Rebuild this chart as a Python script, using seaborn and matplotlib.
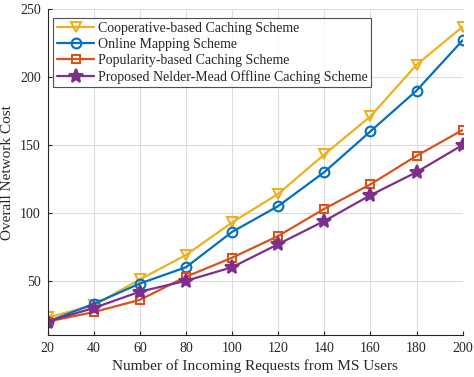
import pandas as pd
import matplotlib.pyplot as plt
import seaborn as sns

requests = [20, 40, 60, 80, 100, 120, 140, 160, 180, 200]
cooperative = [23, 32, 51, 69, 93, 114, 143, 171, 209, 237]
online = [20, 33, 48, 60, 86, 105, 130, 160, 190, 227]
popularity = [20, 27, 36, 53, 67, 83, 103, 121, 142, 161]
proposed = [20, 30, 42, 50, 60, 77, 94, 113, 130, 150]

names = ['Cooperative-based Caching Scheme', 'Online Mapping Scheme',
         'Popularity-based Caching Scheme', 'Proposed Nelder-Mead Offline Caching Scheme']
colors = ['#EDB120', '#0072BD', '#D95319', '#7E2F8E']
markers = ['v', 'o', 's', '*']
sizes = [7, 7, 6, 10]

sns.set_style('whitegrid')
plt.rcParams['font.family'] = ['Liberation Serif', 'DejaVu Serif']

fig = plt.figure(figsize=(4.74, 3.77), dpi=100)
ax = fig.add_axes([0.1006, 0.111, 0.8755, 0.865])

for name, vals, c, m, ms in zip(names, [cooperative, online, popularity, proposed], colors, markers, sizes):
    df = pd.DataFrame({'x': requests, 'y': vals})
    face = c if m == '*' else 'none'
    sns.lineplot(data=df, x='x', y='y', ax=ax, color=c, marker=m, markersize=ms,
                 markerfacecolor=face, markeredgecolor=c, markeredgewidth=1.5,
                 linewidth=1.6, label=name)

ax.set_xlim(20, 200)
ax.set_ylim(10, 250)
ax.set_xticks(requests)
ax.set_yticks([50, 100, 150, 200, 250])
ax.grid(True, color='#dcdcdc', linewidth=0.8)
for s in ['top', 'right']:
    ax.spines[s].set_visible(False)
for s in ['left', 'bottom']:
    ax.spines[s].set_color('#262626')
    ax.spines[s].set_linewidth(0.8)
ax.tick_params(direction='in', length=3, labelsize=10, colors='#262626',
               left=True, bottom=True, pad=5)
ax.set_xlabel('Number of Incoming Requests from MS Users', fontsize=11, color='#262626', labelpad=3)
ax.set_ylabel('Overall Network Cost', fontsize=11, color='#262626', labelpad=4)

leg = ax.legend(loc='upper left', bbox_to_anchor=(0.0135, 0.972), fontsize=10,
                frameon=True, fancybox=False, borderpad=0.25, labelspacing=0.22,
                handlelength=2.7, handletextpad=0.25, borderaxespad=0)
leg.get_frame().set_edgecolor('#262626')
leg.get_frame().set_linewidth(0.8)

fig.savefig('out.png', dpi=100)
